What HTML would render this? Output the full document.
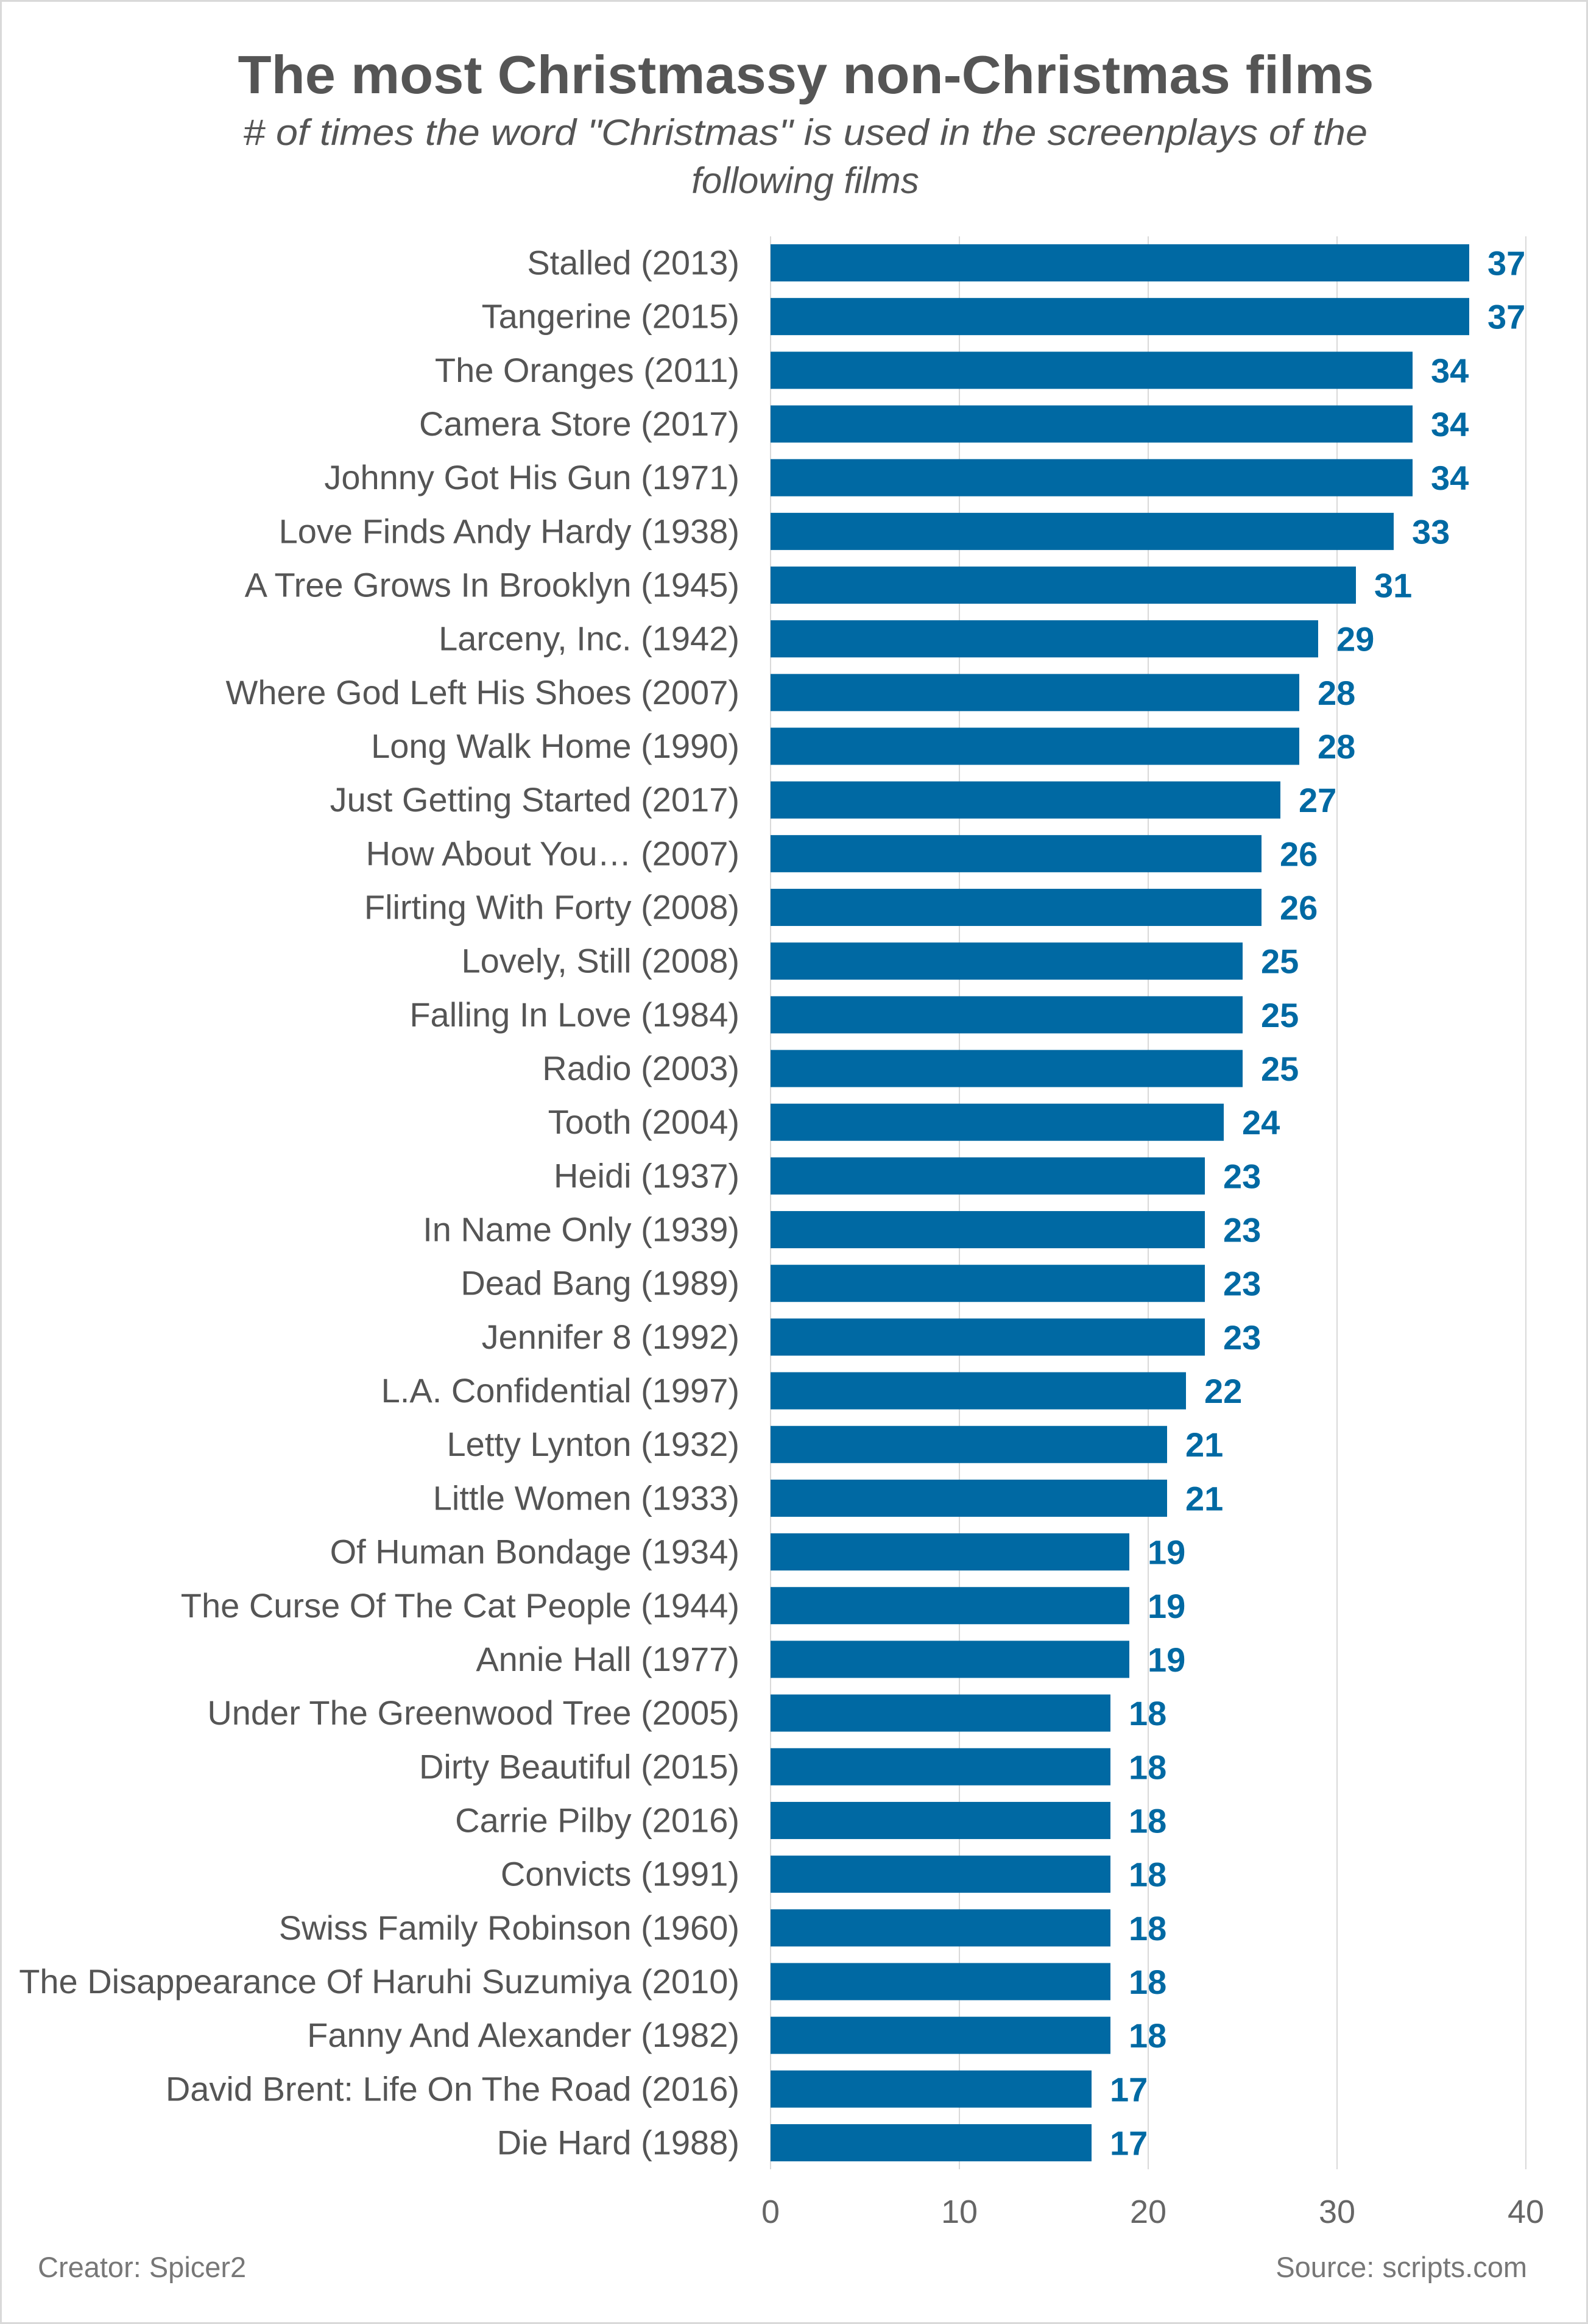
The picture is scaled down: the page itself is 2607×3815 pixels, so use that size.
<!DOCTYPE html>
<html><head><meta charset="utf-8"><style>
html,body{margin:0;padding:0;background:#fff}
svg{display:block}
text{font-family:"Liberation Sans",sans-serif}
</style></head><body>
<svg id="chart" width="2607" height="3815" viewBox="0 0 2607 3815" xmlns="http://www.w3.org/2000/svg">
<rect x="1.5" y="1.5" width="2604" height="3812" fill="#fff" stroke="#d9d9d9" stroke-width="3"/>
<text x="1323" y="153" text-anchor="middle" font-size="88" font-weight="bold" fill="#555" textLength="1865" lengthAdjust="spacingAndGlyphs">The most Christmassy non-Christmas films</text>
<text x="1322" y="238" text-anchor="middle" font-size="60" font-style="italic" fill="#555" textLength="1846" lengthAdjust="spacingAndGlyphs"># of times the word "Christmas" is used in the screenplays of the</text>
<text x="1322" y="317" text-anchor="middle" font-size="60" font-style="italic" fill="#555">following films</text>
<g id="grid"></g>
<g id="bars"></g>
<g id="xaxis"></g>
<text x="62" y="3738" font-size="47" fill="#777">Creator: Spicer2</text>
<text x="2507" y="3738" text-anchor="end" font-size="47" fill="#777">Source: scripts.com</text>
</svg>
<script>
const categories = ["Stalled (2013)","Tangerine (2015)","The Oranges (2011)","Camera Store (2017)","Johnny Got His Gun (1971)","Love Finds Andy Hardy (1938)","A Tree Grows In Brooklyn (1945)","Larceny, Inc. (1942)","Where God Left His Shoes (2007)","Long Walk Home (1990)","Just Getting Started (2017)","How About You… (2007)","Flirting With Forty (2008)","Lovely, Still (2008)","Falling In Love (1984)","Radio (2003)","Tooth (2004)","Heidi (1937)","In Name Only (1939)","Dead Bang (1989)","Jennifer 8 (1992)","L.A. Confidential (1997)","Letty Lynton (1932)","Little Women (1933)","Of Human Bondage (1934)","The Curse Of The Cat People (1944)","Annie Hall (1977)","Under The Greenwood Tree (2005)","Dirty Beautiful (2015)","Carrie Pilby (2016)","Convicts (1991)","Swiss Family Robinson (1960)","The Disappearance Of Haruhi Suzumiya (2010)","Fanny And Alexander (1982)","David Brent: Life On The Road (2016)","Die Hard (1988)"];
const values = [37,37,34,34,34,33,31,29,28,28,27,26,26,25,25,25,24,23,23,23,23,22,21,21,19,19,19,18,18,18,18,18,18,18,17,17];
const ticks = [0,10,20,30,40];

const NS = "http://www.w3.org/2000/svg";
const x0 = 1265, pxPerUnit = 31, top0 = 401, pitch = 88.17, barH = 61;
const gridTop = 388, gridBottom = 3561;
function xScale(v){ return x0 + v * pxPerUnit; }
function yScale(i){ return top0 + i * pitch; }
function mk(tag, attrs, parent){
  const e = document.createElementNS(NS, tag);
  for (const k in attrs) e.setAttribute(k, attrs[k]);
  parent.appendChild(e); return e;
}
const grid = document.getElementById('grid');
const bars = document.getElementById('bars');
const xaxis = document.getElementById('xaxis');
ticks.forEach(t => {
  const l = mk('line', {x1: xScale(t), x2: xScale(t), y1: gridTop, y2: gridBottom, stroke: '#d9d9d9', 'stroke-width': 2}, grid);
  
  
  const tx = mk('text', {x: xScale(t), y: 3649, 'text-anchor': 'middle', 'font-size': 54, fill: '#666'}, xaxis);
  tx.textContent = t;
  
  
});
categories.forEach((c, i) => {
  const y = yScale(i);
  const r = mk('rect', {x: x0, y: y, width: xScale(values[i]) - x0, height: barH, fill: '#0069a3'}, bars);
  
  
  const lab = mk('text', {x: 1214, y: y + barH/2 + 19, 'text-anchor': 'end', 'font-size': 56, fill: '#555'}, bars);
  lab.textContent = c;
  
  
  const v = mk('text', {x: xScale(values[i]) + 30, y: y + barH/2 + 20, 'font-size': 56, 'font-weight': 'bold', fill: '#0069a3'}, bars);
  v.textContent = values[i];
  
  
});
</script>
</body></html>
